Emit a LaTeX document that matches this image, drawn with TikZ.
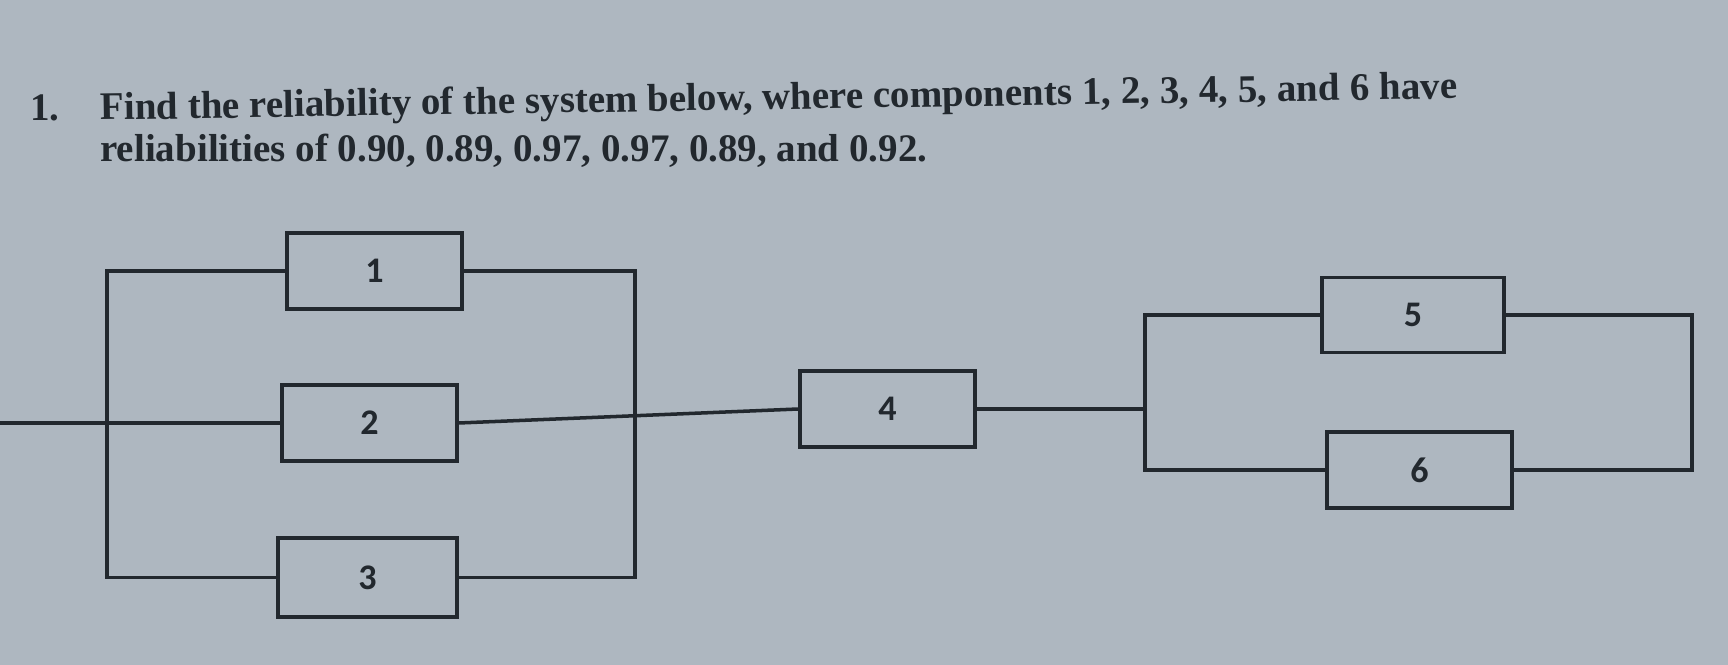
\documentclass[tikz,border=0pt]{standalone}
\usepackage{fontspec}
\setmainfont{Liberation Serif}
\newfontfamily\labelfont{Carlito}
\usetikzlibrary{calc}
\definecolor{paper}{RGB}{174,183,192}
\definecolor{ink}{RGB}{34,40,46}

\begin{document}
\begin{tikzpicture}[x=0.02cm, y=-0.02cm,
        unit/.style={draw=ink, line width=2pt, inner sep=0pt,
            minimum width=3.5cm, minimum height=1.52cm, text=ink,
            font=\labelfont\bfseries\fontsize{20.5}{20.5}\selectfont},
        wire/.style={draw=ink, line width=2pt},
        question/.style={anchor=base west, inner sep=0pt, text=ink,
            font=\bfseries\fontsize{22.2}{25}\selectfont}]
        \useasboundingbox (0, 0) rectangle (1728, 665);
        \fill[paper] (0, 0) rectangle (1728, 665);
        % question text
        \node[question] (num) at (30, 121) {1.};
        \node[question, rotate=0.9] (lineA) at (100, 120)
            {Find the reliability of the system below, where components 1, 2, 3, 4, 5, and 6 have};
        \node[question] (lineB) at (100, 162)
            {reliabilities of 0.90, 0.89, 0.97, 0.97, 0.89, and 0.92.};
        % components
        \node[unit] (c1) at (374.5, 271) {1};
        \node[unit] (c2) at (369.5, 423) {2};
        \node[unit, minimum width=3.58cm, minimum height=1.58cm] (c3) at (367.5, 577.5) {3};
        \node[unit] (c4) at (887.5, 409) {4};
        \node[unit, minimum width=3.64cm, minimum height=1.5cm] (c5) at (1413, 315) {5};
        \node[unit, minimum width=3.7cm] (c6) at (1419.5, 470) {6};
        % first parallel block
        \coordinate (inL) at (0, 423);
        \coordinate (busA) at (107, 271);
        \coordinate (busB) at (107, 577.5);
        \coordinate (busC) at (635, 271);
        \coordinate (busD) at (635, 577.5);
        \draw[wire] (c1.west) -- (busA) -- (busB) -- (c3.west);
        \draw[wire] (c1.east) -- (busC) -- (busD) -- (c3.east);
        \draw[wire] (inL) -- (c2.west);
        \draw[wire] (c2.east) -- (c4.west);
        % second parallel block
        \coordinate (busE) at (1145, 315);
        \coordinate (busF) at (1145, 470);
        \coordinate (busG) at (1692, 315);
        \coordinate (busH) at (1692, 470);
        \draw[wire] (c4.east) -- (c4.east -| busE);
        \draw[wire] (c5.west) -- (busE) -- (busF) -- (c6.west);
        \draw[wire] (c5.east) -- (busG) -- (busH) -- (c6.east);
    \end{tikzpicture}
\end{document}
